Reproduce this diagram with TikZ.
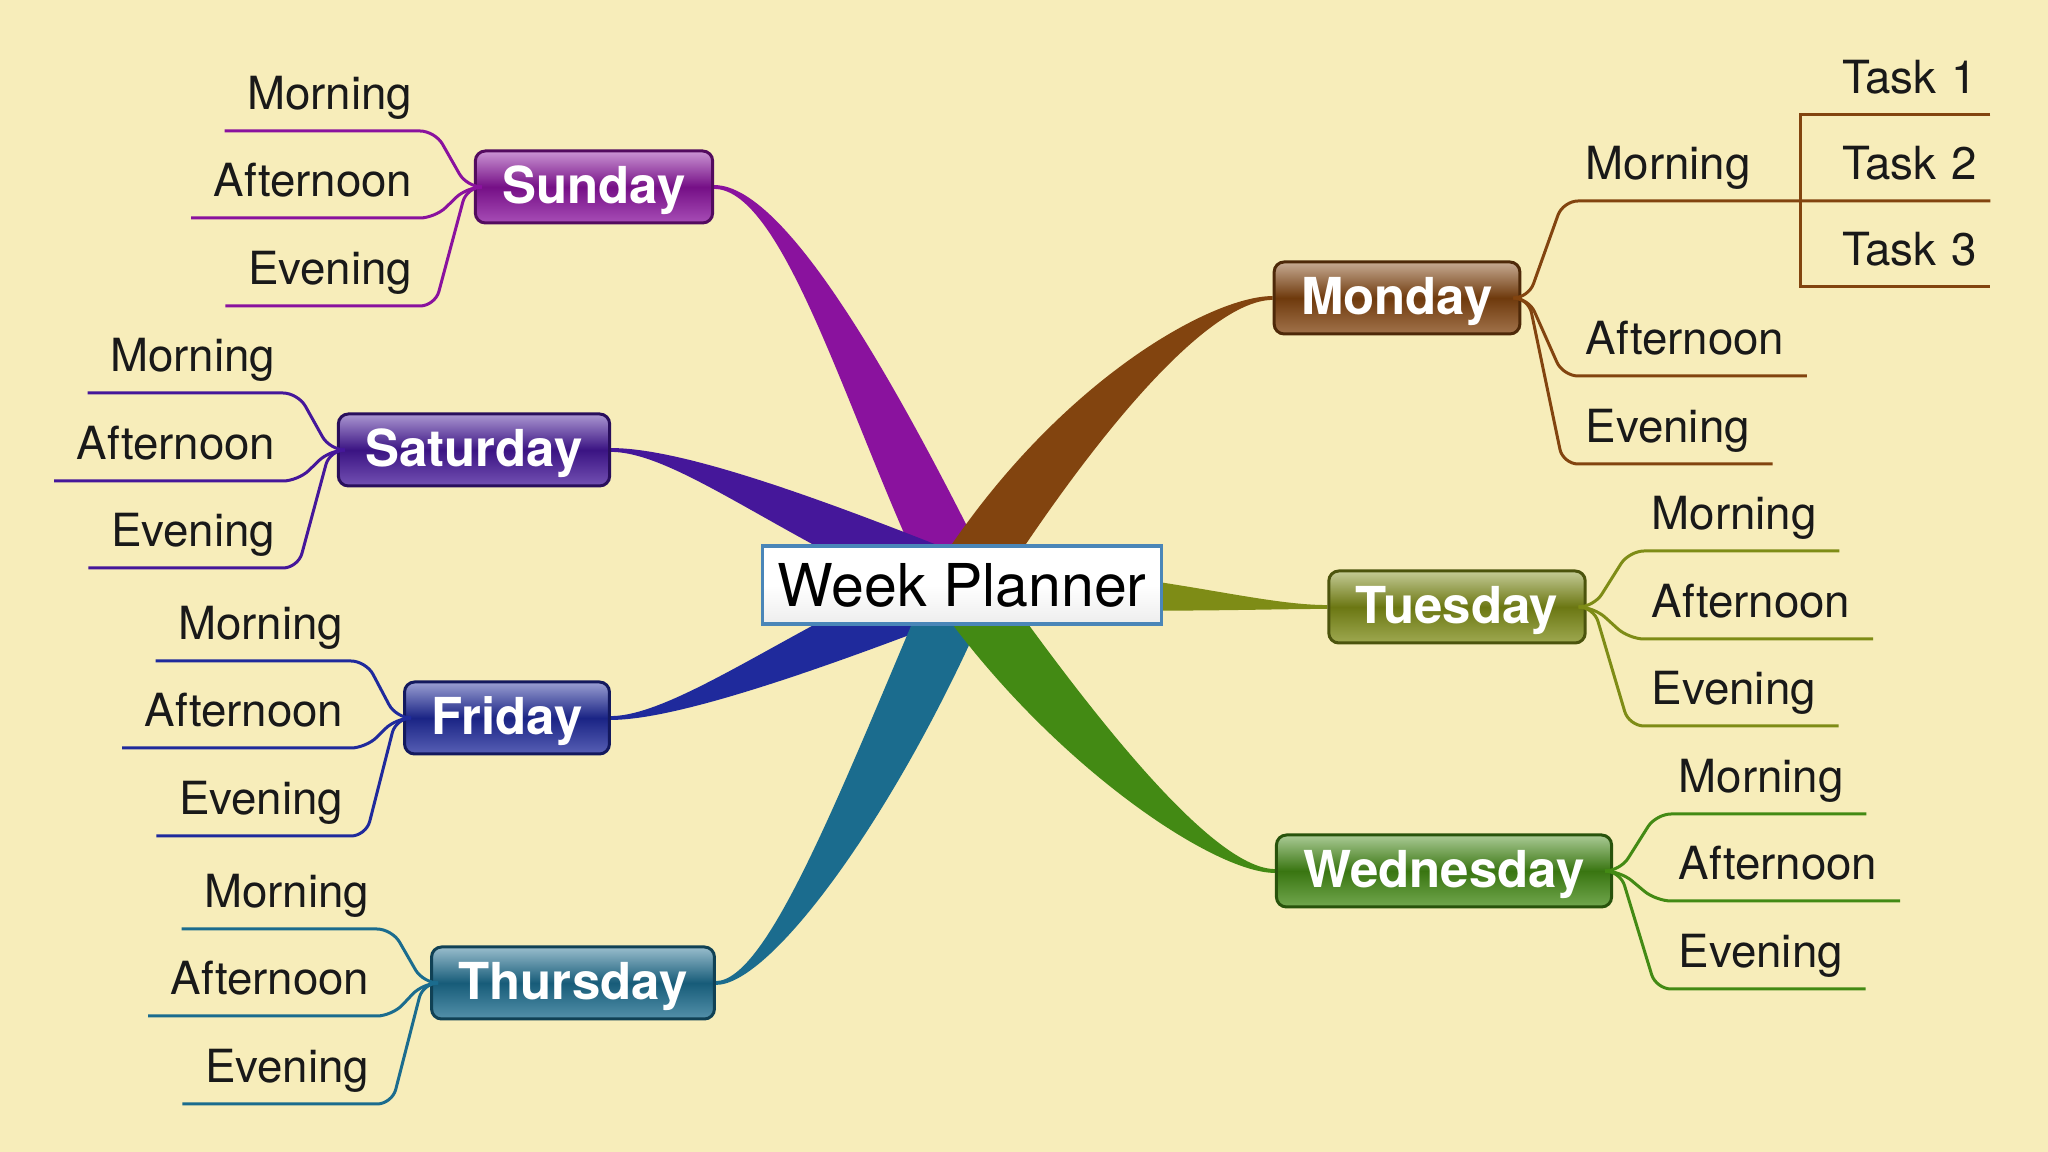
\documentclass[tikz,border=0pt]{standalone}
\usepackage{fontspec}
\setmainfont{TeX Gyre Heros}
\usepackage{tikz}
\usetikzlibrary{calc,backgrounds}

\definecolor{paper}{HTML}{F7EDBA}
\definecolor{rim}{HTML}{4A86B8}
\definecolor{sun}{HTML}{8A129E}
\definecolor{sat}{HTML}{45179A}
\definecolor{fri}{HTML}{1F2A9C}
\definecolor{thu}{HTML}{1B6C8E}
\definecolor{mon}{HTML}{82440F}
\definecolor{tue}{HTML}{7E8C16}
\definecolor{wed}{HTML}{438A14}

\tikzset{
  hub/.style={draw=rim, line width=0.35mm, top color=white, bottom color=black!7, middle color=white,
    font=\fontsize{16.8}{20}\selectfont, inner xsep=1.5mm, inner ysep=0pt, minimum height=7.8mm},
  day/.style={rounded corners=1mm, draw=#1!60!black, line width=0.3mm,
    top color=#1!45!white, bottom color=#1!75!white, middle color=#1!85!black,
    text=white, font=\bfseries\fontsize{14.5}{17}\selectfont,
    text height=3.7mm, text depth=0.3mm,
    inner xsep=2.7mm, inner ysep=0pt, minimum height=7.2mm},
  leaf/.style={font=\fontsize{13}{15}\selectfont, text=black!90,
    text height=3.3mm, text depth=1mm, inner xsep=2.2mm, inner ysep=1.1mm},
  task/.style={leaf, anchor=south west, inner xsep=0pt, minimum width=18.9mm, text width=16.4mm, align=right},
  twig/.style={draw=#1, line width=0.3mm, rounded corners=1.5mm},
}

% thick tapering branch: colour, day anchor, first control (relative), second control, half width
\newcommand{\limb}[5]{%
  \fill[#1, draw=#1, line width=1.1pt] (#2) .. controls +(#3) and ($(#4)!#5!-90:(plan.center)$) .. ($(plan.center)!#5!90:(#4)$)
    -- ($(plan.center)!#5!-90:(#4)$) .. controls ($(#4)!#5!90:(plan.center)$) and ($(#2)+(#3)$) .. (#2) -- cycle;}

\begin{document}
\begin{tikzpicture}[x=0.1mm, y=-0.1mm]
\useasboundingbox (0,0) rectangle (2048,1152);

\node[hub] (plan) at (962,585) {Week Planner};

\node[day=sun] (sun) at (594,187) {Sunday};
\node[day=sat] (sat) at (474,450) {Saturday};
\node[day=fri] (fri) at (507,718) {Friday};
\node[day=thu] (thu) at (573,983) {Thursday};
\node[day=mon] (mon) at (1397,298) {Monday};
\node[day=tue] (tue) at (1457,607) {Tuesday};
\node[day=wed] (wed) at (1444,871) {Wednesday};

\node[leaf, anchor=south east] (sun-m) at (435,131) {Morning};
\node[leaf, anchor=south east] (sun-a) at (435,218) {Afternoon};
\node[leaf, anchor=south east] (sun-e) at (435,306) {Evening};
\node[leaf, anchor=south east] (sat-m) at (298,393) {Morning};
\node[leaf, anchor=south east] (sat-a) at (298,481) {Afternoon};
\node[leaf, anchor=south east] (sat-e) at (298,568) {Evening};
\node[leaf, anchor=south east] (fri-m) at (366,661) {Morning};
\node[leaf, anchor=south east] (fri-a) at (366,748) {Afternoon};
\node[leaf, anchor=south east] (fri-e) at (366,836) {Evening};
\node[leaf, anchor=south east] (thu-m) at (392,929) {Morning};
\node[leaf, anchor=south east] (thu-a) at (392,1016) {Afternoon};
\node[leaf, anchor=south east] (thu-e) at (392,1104) {Evening};
\node[leaf, anchor=south west] (mon-m) at (1563,201) {Morning};
\node[leaf, anchor=south west] (mon-a) at (1563,376) {Afternoon};
\node[leaf, anchor=south west] (mon-e) at (1563,464) {Evening};
\node[leaf, anchor=south west] (tue-m) at (1629,551) {Morning};
\node[leaf, anchor=south west] (tue-a) at (1629,639) {Afternoon};
\node[leaf, anchor=south west] (tue-e) at (1629,726) {Evening};
\node[leaf, anchor=south west] (wed-m) at (1656,814) {Morning};
\node[leaf, anchor=south west] (wed-a) at (1656,901) {Afternoon};
\node[leaf, anchor=south west] (wed-e) at (1656,989) {Evening};

\node[task] (task1) at (1800,115) {Task 1};
\node[task] (task2) at (1800,201) {Task 2};
\node[task] (task3) at (1800,287) {Task 3};

\draw[twig=sun] (sun.west) -- ++(-7,0) -- (sun-m.south east) -- (sun-m.south west);
\draw[twig=sun] (sun.west) -- ++(-7,0) -- (sun-a.south east) -- (sun-a.south west);
\draw[twig=sun] (sun.west) -- ++(-7,0) -- (sun-e.south east) -- (sun-e.south west);
\draw[twig=sat] (sat.west) -- ++(-7,0) -- (sat-m.south east) -- (sat-m.south west);
\draw[twig=sat] (sat.west) -- ++(-7,0) -- (sat-a.south east) -- (sat-a.south west);
\draw[twig=sat] (sat.west) -- ++(-7,0) -- (sat-e.south east) -- (sat-e.south west);
\draw[twig=fri] (fri.west) -- ++(-7,0) -- (fri-m.south east) -- (fri-m.south west);
\draw[twig=fri] (fri.west) -- ++(-7,0) -- (fri-a.south east) -- (fri-a.south west);
\draw[twig=fri] (fri.west) -- ++(-7,0) -- (fri-e.south east) -- (fri-e.south west);
\draw[twig=thu] (thu.west) -- ++(-7,0) -- (thu-m.south east) -- (thu-m.south west);
\draw[twig=thu] (thu.west) -- ++(-7,0) -- (thu-a.south east) -- (thu-a.south west);
\draw[twig=thu] (thu.west) -- ++(-7,0) -- (thu-e.south east) -- (thu-e.south west);
\draw[twig=mon] (mon.east) -- ++(7,0) -- (mon-m.south west) -- (mon-m.south east) -- (task2.south east);
\draw[twig=mon] (mon.east) -- ++(7,0) -- (mon-a.south west) -- (mon-a.south east);
\draw[twig=mon] (mon.east) -- ++(7,0) -- (mon-e.south west) -- (mon-e.south east);
\draw[twig=mon, rounded corners=0] (task1.south east) -- (task1.south west) -- (task3.south west) -- (task3.south east);
\draw[twig=tue] (tue.east) -- ++(7,0) -- (tue-m.south west) -- (tue-m.south east);
\draw[twig=tue] (tue.east) -- ++(7,0) -- (tue-a.south west) -- (tue-a.south east);
\draw[twig=tue] (tue.east) -- ++(7,0) -- (tue-e.south west) -- (tue-e.south east);
\draw[twig=wed] (wed.east) -- ++(7,0) -- (wed-m.south west) -- (wed-m.south east);
\draw[twig=wed] (wed.east) -- ++(7,0) -- (wed-a.south west) -- (wed-a.south east);
\draw[twig=wed] (wed.east) -- ++(7,0) -- (wed-e.south west) -- (wed-e.south east);

\begin{scope}[on background layer]
\fill[paper] (0,0) rectangle (2048,1152);
\limb{sun}{sun.east}{74,0}{880,420}{2.9mm}
\limb{sat}{sat.east}{68,0}{800,520}{2.6mm}
\limb{fri}{fri.east}{68,0}{820,640}{2.6mm}
\limb{thu}{thu.east}{54,0}{870,800}{2.9mm}
\limb{mon}{mon.west}{-61,0}{1080,400}{2.9mm}
\limb{tue}{tue.west}{-74,0}{1150,592}{2mm}
\limb{wed}{wed.west}{-61,0}{1075,745}{2.9mm}
\end{scope}
\end{tikzpicture}
\end{document}
